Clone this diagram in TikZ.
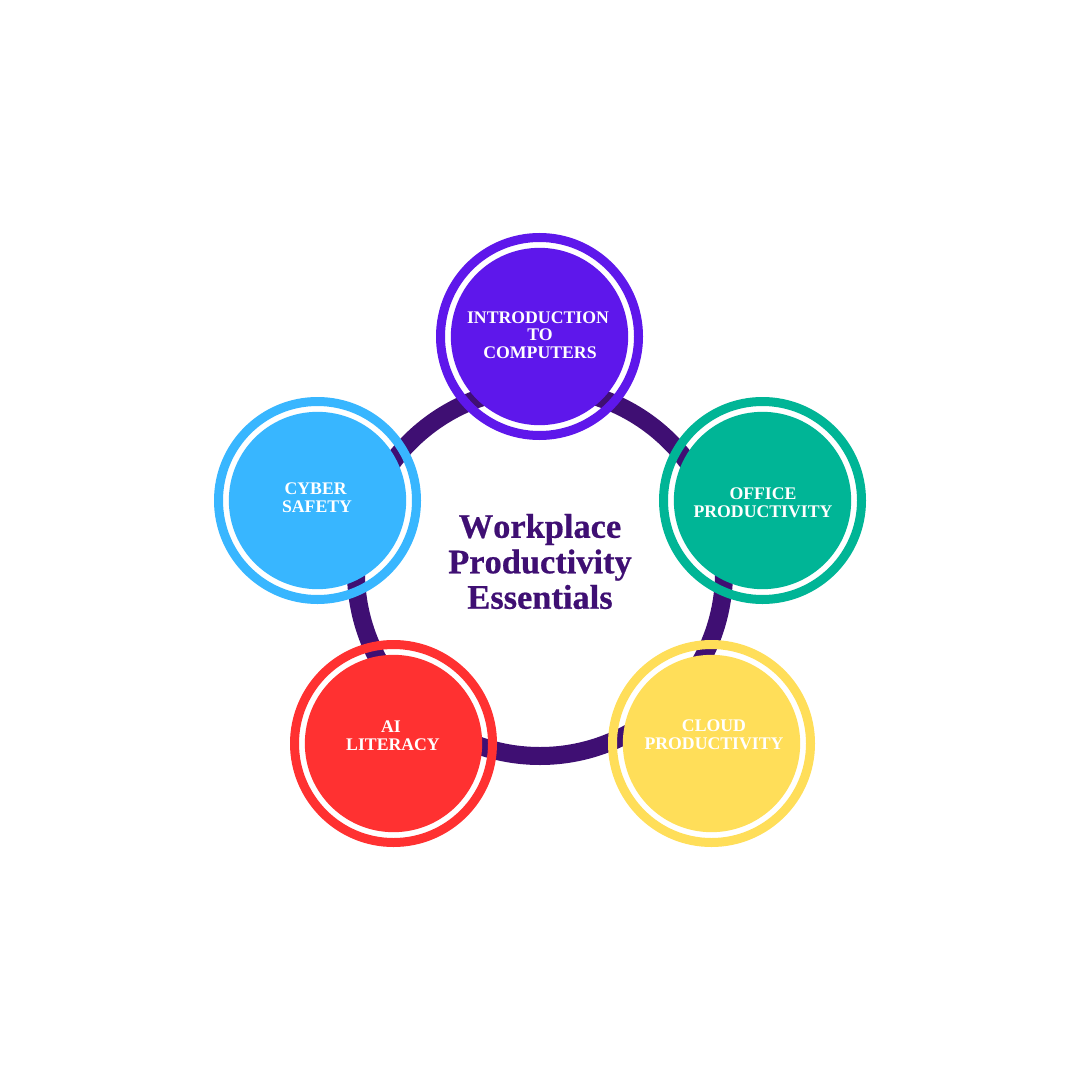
\documentclass[tikz,border=0pt]{standalone}
\usepackage{fontspec}
\setmainfont{Liberation Serif}
\newfontfamily\titlefont[Kerning=Off,FakeBold=0.6]{Liberation Serif Bold}
\definecolor{ringdark}{HTML}{3F0F73}
\definecolor{cviolet}{HTML}{5E17EB}
\definecolor{cteal}{HTML}{00B596}
\definecolor{cyellow}{HTML}{FFDE59}
\definecolor{cred}{HTML}{FF3131}
\definecolor{cblue}{HTML}{38B6FF}
\tikzset{
  band/.style={circle,draw=#1,line width=6.75pt,minimum size=148.5pt,inner sep=0pt,outer sep=0pt},
  disc/.style={circle,fill=#1,minimum size=133pt,inner sep=0pt,outer sep=0pt},
  lab/.style={text=white,align=center,font=\fontsize{13.3}{13.2}\selectfont\bfseries,inner sep=0pt},
  hubring/.style={circle,draw=ringdark,line width=13.5pt,minimum size=276pt,inner sep=0pt,outer sep=0pt},
  titletext/.style={text=ringdark,align=center,font=\titlefont\fontsize{25.8}{26.6}\selectfont,inner sep=0pt}
}
\begin{document}
\begin{tikzpicture}[x=0.75pt,y=-0.75pt]
\useasboundingbox[fill=white] (0,0) rectangle (1080,1080);
\node[hubring] (hub) at (540,572) {};
\foreach \n/\c/\x/\y in {a/cviolet/539.5/336.5,b/cteal/762.5/500.5,c/cyellow/711.5/743.5,d/cred/393.5/743.5,e/cblue/317.5/500.5}{
  \node[band=\c] (\n band) at (\x,\y) {};
  \node[disc=\c] (\n disc) at (\x,\y) {};
}
\node[lab] (alab) at (538,335) {INTRODUCTION\\\hspace*{3pt}TO\\\hspace*{3pt}COMPUTERS};
\node[lab] (blab) at (763,502.5) {OFFICE\\PRODUCTIVITY};
\node[lab] (clab) at (714,735) {CLOUD\\PRODUCTIVITY};
\node[lab] (dlab) at (393,736) {AI\hspace*{3pt}\\LITERACY};
\node[lab] (elab) at (317,498) {CYBER\hspace*{2pt}\\SAFETY};
\node[titletext] (title) at (540,561.5) {Workplace\\Productivity\\Essentials};
\end{tikzpicture}
\end{document}
